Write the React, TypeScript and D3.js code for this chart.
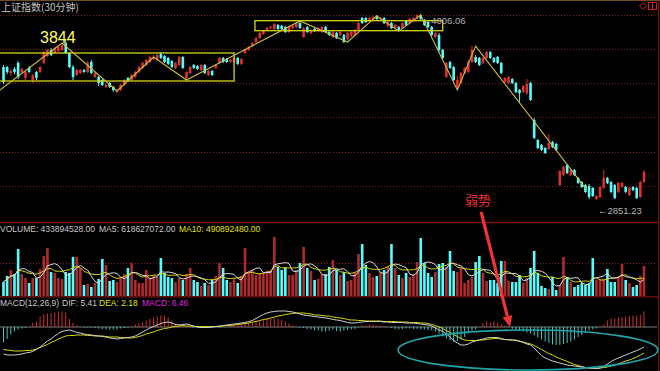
import * as d3 from 'd3';

// 30-minute candles, SSE Composite
const openPx = [
  3677, 3677, 3640, 3665, 3702, 3646, 3609, 3671, 3596, 3646,
  3646, 3702, 3745, 3783, 3764, 3776, 3783, 3826, 3764, 3677,
  3627, 3640, 3658, 3646, 3708, 3615, 3615, 3596, 3553, 3578,
  3553, 3522, 3534, 3565, 3609, 3596, 3615, 3646, 3671, 3689,
  3708, 3727, 3720, 3758, 3745, 3733, 3714, 3671, 3689, 3739,
  3609, 3640, 3689, 3683, 3658, 3689, 3627, 3652, 3671, 3702,
  3733, 3727, 3708, 3708, 3733, 3696, 3764, 3783, 3807, 3832,
  3857, 3882, 3907, 3919, 3913, 3938, 3932, 3925, 3894, 3919,
  3925, 3950, 3863, 3925, 3888, 3913, 3900, 3894, 3925, 3894,
  3863, 3888, 3876, 3876, 3851, 3869, 3876, 3907, 3981, 3981,
  3963, 3975, 3994, 3975, 3981, 3932, 3950, 3919, 3925, 3919,
  3963, 3950, 3963, 3981, 4000, 3969, 3956, 3925, 3863, 3876,
  3783, 3615, 3708, 3677, 3547, 3578, 3640, 3646, 3708, 3739,
  3733, 3702, 3733, 3770, 3733, 3739, 3702, 3584, 3578, 3602,
  3578, 3534, 3522, 3515, 3578, 3348, 3224, 3193, 3174, 3168,
  3211, 3199, 2944, 3006, 3068, 3006, 3037, 2988, 2963, 2944,
  2938, 2926, 2857, 2870, 2926, 2988, 2963, 2944, 2901, 2932,
  2932, 2882, 2932, 2926, 2870, 2963,
];
const closePx = [
  3584, 3646, 3652, 3646, 3615, 3665, 3646, 3646, 3627, 3609,
  3677, 3770, 3783, 3751, 3795, 3801, 3814, 3764, 3677, 3615,
  3658, 3658, 3646, 3702, 3640, 3640, 3578, 3565, 3565, 3553,
  3534, 3534, 3565, 3596, 3590, 3627, 3646, 3677, 3702, 3720,
  3739, 3739, 3751, 3733, 3708, 3696, 3677, 3702, 3739, 3671,
  3646, 3677, 3671, 3665, 3689, 3640, 3652, 3627, 3689, 3733,
  3708, 3708, 3720, 3733, 3696, 3727, 3783, 3801, 3826, 3857,
  3888, 3900, 3919, 3925, 3944, 3913, 3913, 3894, 3925, 3932,
  3950, 3919, 3919, 3894, 3907, 3900, 3919, 3925, 3894, 3876,
  3894, 3857, 3894, 3832, 3888, 3894, 3907, 3950, 3950, 3956,
  3981, 3987, 3975, 3981, 3950, 3956, 3919, 3938, 3907, 3950,
  3938, 3975, 3981, 4000, 3975, 3938, 3925, 3876, 3888, 3783,
  3733, 3702, 3671, 3596, 3596, 3640, 3671, 3708, 3783, 3708,
  3689, 3733, 3770, 3733, 3708, 3702, 3640, 3609, 3615, 3578,
  3522, 3515, 3559, 3571, 3472, 3236, 3174, 3162, 3143, 3205,
  3180, 3162, 3031, 3056, 3019, 3037, 3006, 2957, 2932, 2901,
  2870, 2876, 2876, 2932, 2988, 2957, 2901, 2863, 2957, 2957,
  2901, 2926, 2913, 2863, 2963, 3025,
];
const highPx = [
  3689, 3683, 3665, 3677, 3714, 3671, 3652, 3683, 3633, 3652,
  3683, 3776, 3789, 3795, 3801, 3807, 3820, 3844, 3770, 3689,
  3665, 3665, 3665, 3714, 3720, 3646, 3621, 3602, 3571, 3584,
  3559, 3540, 3571, 3602, 3615, 3633, 3652, 3683, 3708, 3727,
  3745, 3751, 3758, 3770, 3751, 3739, 3720, 3708, 3745, 3745,
  3652, 3683, 3696, 3689, 3696, 3696, 3658, 3658, 3696, 3739,
  3739, 3733, 3727, 3739, 3739, 3733, 3789, 3807, 3832, 3863,
  3894, 3907, 3925, 3932, 3950, 3944, 3938, 3932, 3932, 3938,
  3956, 3963, 3925, 3932, 3913, 3919, 3925, 3932, 3932, 3900,
  3900, 3894, 3900, 3882, 3894, 3900, 3913, 3956, 3987, 3987,
  3987, 3994, 4000, 3987, 3987, 3963, 3956, 3944, 3932, 3956,
  3969, 3981, 3987, 4004, 4006.06, 3975, 3963, 3932, 3894, 3888,
  3789, 3708, 3714, 3683, 3621, 3646, 3677, 3720, 3807, 3751,
  3739, 3739, 3776, 3776, 3739, 3745, 3708, 3615, 3621, 3609,
  3584, 3540, 3565, 3602, 3584, 3360, 3230, 3199, 3180, 3261,
  3217, 3205, 3037, 3062, 3075, 3044, 3044, 2994, 2969, 2950,
  2950, 2932, 2882, 2938, 3037, 2994, 2969, 2950, 2963, 2963,
  2938, 2932, 2938, 2932, 2969, 3037,
];
const lowPx = [
  3571, 3633, 3627, 3633, 3602, 3640, 3596, 3640, 3578, 3596,
  3640, 3696, 3739, 3745, 3758, 3770, 3776, 3758, 3671, 3596,
  3621, 3633, 3640, 3640, 3633, 3609, 3559, 3559, 3547, 3547,
  3522, 3515, 3528, 3559, 3584, 3590, 3609, 3640, 3665, 3683,
  3702, 3720, 3714, 3727, 3702, 3689, 3671, 3665, 3683, 3665,
  3596, 3633, 3665, 3658, 3652, 3633, 3621, 3621, 3665, 3696,
  3702, 3702, 3702, 3702, 3689, 3689, 3758, 3776, 3801, 3826,
  3851, 3876, 3900, 3913, 3907, 3907, 3907, 3888, 3888, 3913,
  3919, 3913, 3857, 3888, 3882, 3894, 3894, 3888, 3888, 3869,
  3857, 3851, 3869, 3826, 3845, 3863, 3869, 3900, 3944, 3950,
  3956, 3969, 3969, 3969, 3944, 3925, 3913, 3913, 3900, 3913,
  3932, 3944, 3956, 3975, 3969, 3932, 3919, 3869, 3857, 3770,
  3727, 3609, 3665, 3590, 3534, 3571, 3633, 3640, 3702, 3702,
  3683, 3696, 3727, 3727, 3702, 3696, 3633, 3578, 3571, 3571,
  3515, 3460, 3515, 3503, 3466, 3230, 3168, 3155, 3137, 3162,
  3174, 3155, 2938, 3000, 3012, 3000, 3000, 2950, 2926, 2894,
  2857, 2870, 2851.23, 2863, 2919, 2950, 2894, 2857, 2894, 2926,
  2894, 2876, 2907, 2857, 2863, 2957,
];
// volume, millions of shares
const volume = [
  203, 290, 377, 319, 682, 319, 261, 189, 261, 261,
  392, 580, 696, 348, 334, 261, 247, 348, 334, 566,
  566, 406, 160, 174, 131, 189, 247, 537, 450, 218,
  232, 203, 276, 319, 406, 479, 232, 189, 189, 377,
  261, 305, 276, 551, 334, 276, 261, 203, 261, 232,
  319, 406, 232, 203, 145, 189, 160, 232, 290, 479,
  406, 232, 203, 247, 189, 290, 696, 334, 377, 305,
  334, 334, 363, 363, 856, 421, 377, 406, 305, 305,
  377, 479, 711, 406, 363, 232, 247, 319, 319, 421,
  522, 377, 305, 348, 218, 232, 348, 609, 754, 450,
  334, 276, 290, 348, 377, 435, 754, 406, 305, 261,
  334, 276, 319, 493, 841, 479, 334, 276, 348, 464,
  479, 421, 653, 363, 348, 406, 189, 232, 276, 493,
  580, 334, 218, 232, 232, 189, 508, 508, 218, 203,
  203, 305, 189, 261, 406, 653, 334, 145, 116, 102,
  276, 87, 160, 566, 261, 203, 131, 160, 189, 160,
  189, 551, 232, 247, 247, 392, 203, 203, 290, 464,
  232, 189, 131, 160, 290, 435,
];
const difLine = [
  -54, -56, -56, -56, -55, -54, -52, -51, -49, -45,
  -40, -34, -28, -24, -18, -13, -9, -7, -6, -8,
  -11, -12, -14, -15, -16, -17, -18, -19, -20, -22,
  -23, -24, -23, -22, -21, -20, -18, -14, -10, -6,
  -2, 1, 4, 7, 9, 10, 8, 5, 4, 5,
  6, 4, 2, 0, -1, -1, -1, 0, 1, 2,
  3, 4, 5, 6, 7, 8, 9, 11, 13, 17,
  21, 25, 28, 30, 31, 32, 32, 32, 31, 30,
  28, 26, 24, 23, 22, 21, 20, 19, 18, 17,
  15, 14, 13, 11, 9, 8, 8, 9, 10, 11,
  11, 11, 11, 11, 10, 10, 9, 9, 9, 9,
  8, 8, 8, 7, 6, 5, 4, 2, -2, -6,
  -9, -14, -20, -27, -32, -36, -36, -34, -30, -28,
  -26, -24, -22, -21, -21, -21, -23, -25, -26, -26,
  -26, -28, -31, -34, -36, -42, -50, -57, -62, -65,
  -68, -70, -72, -74, -76, -77, -78, -79, -80, -81,
  -82, -83, -83, -82, -79, -74, -69, -65, -62, -59,
  -56, -53, -50, -47, -44, -40,
];
const deaLine = [
  -45, -46, -47, -48, -48, -48, -47, -47, -46, -44,
  -41, -38, -35, -31, -28, -24, -21, -18, -17, -17,
  -16, -16, -16, -17, -17, -18, -18, -18, -19, -20,
  -20, -20, -21, -21, -22, -22, -21, -19, -17, -14,
  -12, -10, -7, -5, -3, -2, 0, 1, 2, 3,
  2, 2, 1, 1, 1, 1, 1, 1, 1, 1,
  2, 3, 3, 4, 5, 6, 7, 8, 10, 11,
  13, 15, 16, 18, 20, 22, 23, 25, 26, 27,
  28, 28, 28, 27, 26, 24, 24, 23, 22, 22,
  20, 19, 18, 17, 15, 14, 14, 13, 13, 12,
  12, 12, 12, 12, 11, 11, 11, 11, 10, 10,
  10, 9, 9, 9, 8, 8, 7, 5, 3, 0,
  -3, -7, -11, -15, -19, -23, -26, -27, -27, -27,
  -26, -26, -25, -24, -23, -23, -24, -25, -25, -26,
  -27, -29, -30, -32, -34, -37, -41, -45, -49, -53,
  -56, -60, -63, -66, -69, -72, -75, -77, -79, -81,
  -82, -82, -83, -82, -81, -80, -78, -76, -74, -71,
  -68, -66, -63, -60, -56, -52,
];
const macdBar = [
  -31, -24, -15, -9, -5, -3, -2, 1, 8, 11,
  21, 25, 27, 28, 29, 31, 31, 29, 16, 8,
  3, 1, -1, -1, -1, -2, -3, -4, -5, -5,
  -5, -5, -3, -2, -1, 1, 5, 8, 9, 13,
  16, 20, 21, 23, 23, 20, 13, 7, 6, 3,
  2, 0, -1, -2, -2, -2, -2, -2, -1, -1,
  0, 1, 3, 5, 6, 7, 8, 9, 10, 11,
  12, 15, 16, 17, 18, 17, 15, 11, 7, 3,
  1, -1, -2, -4, -5, -7, -7, -9, -9, -7,
  -5, -8, -9, -7, -6, -5, -4, -1, 4, 3,
  5, 4, 3, 3, 1, 0, -2, -4, -5, -4,
  -3, -3, -4, -4, -5, -5, -6, -7, -9, -13,
  -19, -23, -27, -30, -28, -25, -20, -13, -7, -5,
  1, 8, 11, 9, 11, 8, 6, 3, 0, -4,
  -6, -8, -9, -11, -13, -17, -21, -25, -29, -32,
  -35, -36, -36, -34, -32, -29, -25, -20, -16, -11,
  -7, -5, -3, 1, 5, 13, 16, 17, 19, 20,
  21, 22, 23, 23, 24, 31,
];

const priceGrid = [3998, 3787, 3576, 3365, 3151, 2940];
const volumeGrid = 480;

// hand-drawn annotations, in [candle index, price]
const wavePoints: [number, number][] = [
  [-1, 3534], [16, 3826], [31, 3528], [41, 3739], [50, 3596], [81, 3963],
  [94, 3832], [102, 3994], [108, 3900], [114, 4000], [124, 3534], [129, 3807],
  [159.4, 2913],
];
const boxes = [
  { from: -3, to: 63, top: 3764, bottom: 3590 },
  { from: 68.7, to: 120, top: 3964.5, bottom: 3902.4 },
];

const RED = '#e0302c';
const CYAN = '#54fcfc';
const VOL_RED = '#b02a2a';
const GRID = '#8a1a1a';
const LINE_FONT = 'Liberation Sans, Arial, sans-serif';

const App = () => {
  const W = 660, H = 371;
  const n = closePx.length;

  const x = d3.scaleLinear().domain([0, n - 1]).range([3.5, 644]);
  const yP = d3.scaleLinear()
    .domain([d3.min(lowPx) as number, d3.max(highPx) as number])
    .range([200, 14]);
  const yV = d3.scaleLinear().domain([0, d3.max(volume) as number]).range([296, 237]);
  const yM = d3.scaleLinear().domain([-88, 60]).range([371, 297]);

  const up = (i: number) => closePx[i] >= openPx[i];

  const ma = (k: number) => volume.map((_, i) => d3.mean(volume.slice(Math.max(0, i - k + 1), i + 1)) as number);
  const ma5 = ma(5);
  const ma10 = ma(10);

  const volLine = d3.line<number>().x((_, i) => x(i)).y(d => yV(d));
  const macdLine = d3.line<number>().x((_, i) => x(i)).y(d => yM(d));
  const waveLine = d3.line<[number, number]>().x(d => x(d[0])).y(d => yP(d[1]));

  // arrow from the 弱势 note down to the MACD zero line
  const ax1 = x(130.5), ay1 = yP(2777);
  const ax2 = x(138.4), ay2 = yM(0);
  const ang = Math.atan2(ay2 - ay1, ax2 - ax1);
  const headLen = 11, headW = 5;
  const bx = ax2 - headLen * Math.cos(ang), by = ay2 - headLen * Math.sin(ang);
  const head = [
    [ax2, ay2],
    [bx + headW * Math.sin(ang), by - headW * Math.cos(ang)],
    [bx - headW * Math.sin(ang), by + headW * Math.cos(ang)],
  ].map(p => p.join(',')).join(' ');

  const ecx = x(143.3), ecy = yM(-46);
  const erx = x(143.3 + 35.5) - ecx, ery = yM(-46) - yM(-6);

  return (
    <svg width={W} height={H} style={{ position: 'absolute', left: 0, top: 0, display: 'block', background: '#000' }}>
      <rect width={W} height={H} fill="#000" />
      <line x1={0} x2={W} y1={0.5} y2={0.5} stroke="#6e5024" />
      <line x1={658.5} x2={658.5} y1={0} y2={H} stroke="#8a0c0c" />

      {/* grid */}
      {priceGrid.map(p => (
        <line key={p} x1={0} x2={657} y1={Math.round(yP(p)) + 0.5} y2={Math.round(yP(p)) + 0.5}
          stroke={GRID} strokeDasharray="1,2" />
      ))}
      <line x1={0} x2={657} y1={Math.round(yV(volumeGrid)) + 0.5} y2={Math.round(yV(volumeGrid)) + 0.5}
        stroke={GRID} strokeDasharray="1,2" />
      <line x1={0} x2={658} y1={222.5} y2={222.5} stroke="#7e1212" strokeWidth={1.3} />
      <line x1={0} x2={658} y1={296.8} y2={296.8} stroke="#7e1212" strokeWidth={1.3} />
      <line x1={0} x2={657} y1={yM(0)} y2={yM(0)} stroke="#7c7c7c" />

      {/* candles */}
      {d3.range(n).map(i => {
        const c = up(i) ? RED : CYAN;
        const yo = yP(openPx[i]), yc = yP(closePx[i]);
        return (
          <g key={i}>
            <line x1={x(i)} x2={x(i)} y1={yP(highPx[i])} y2={yP(lowPx[i])} stroke={c} />
            <rect x={x(i) - 1.3} width={2.6} y={Math.min(yo, yc)} height={Math.max(1, Math.abs(yo - yc))} fill={c} />
          </g>
        );
      })}

      {/* annotation boxes and wave line */}
      {boxes.map((b, k) => (
        <rect key={k} x={x(b.from)} y={yP(b.top)} width={x(b.to) - x(b.from)} height={yP(b.bottom) - yP(b.top)}
          fill="none" stroke="#d6d61c" strokeWidth={1.3} />
      ))}
      <path d={waveLine(wavePoints) ?? ''} fill="none" stroke="#c9bd3a" strokeWidth={1.1} />

      <text x={40} y={yP(3844) + 3.2} fill="#ffff5a" fontFamily={LINE_FONT} fontSize={16}>3844</text>
      <text x={x(114) + 1} y={yP(4006.06) + 9.5} fill="#b4b4b4" fontFamily={LINE_FONT} fontSize={9.5}>←4006.06</text>
      <text x={x(162) + 1.5} y={yP(2851.23) + 13.5} fill="#b4b4b4" fontFamily={LINE_FONT} fontSize={9.5}>←2851.23</text>
      <text x={1} y={11} fill="#c4c4c4" fontFamily="Noto Sans CJK SC, sans-serif" fontSize={10}>上证指数(30分钟)</text>

      {/* top right icons */}
      <path d="M643,2.5 L646.5,6 L643,9.5 L639.5,6 Z" fill="none" stroke="#d02020" />
      <rect x={648.5} y={2.5} width={8} height={7} fill="none" stroke="#d02020" />
      <line x1={652.5} x2={652.5} y1={2.5} y2={9.5} stroke="#d02020" />

      {/* volume */}
      {volume.map((v, i) => (
        <rect key={i} x={x(i) - 1.3} width={2.6} y={yV(v)} height={296 - yV(v)} fill={up(i) ? VOL_RED : CYAN} />
      ))}
      <path d={volLine(ma10) ?? ''} fill="none" stroke="#d4d400" />
      <path d={volLine(ma5) ?? ''} fill="none" stroke="#dcdcdc" />
      <text y={232} fontFamily={LINE_FONT} fontSize={8.5}>
        <tspan x={0} fill="#c8c8c8">VOLUME: 433894528.00</tspan>
        <tspan x={99} fill="#c8c8c8">MA5: 618627072.00</tspan>
        <tspan x={179} fill="#e2e200">MA10: 490892480.00</tspan>
      </text>

      {/* MACD */}
      {macdBar.map((v, i) => (
        <line key={i} x1={x(i)} x2={x(i)} y1={yM(0)} y2={yM(v)} stroke={v >= 0 ? '#d03030' : '#3ec8c8'} />
      ))}
      <path d={macdLine(deaLine) ?? ''} fill="none" stroke="#d8d800" />
      <path d={macdLine(difLine) ?? ''} fill="none" stroke="#d0d0d0" />
      <text y={306} fontFamily={LINE_FONT} fontSize={8.5}>
        <tspan x={0} fill="#c8c8c8">MACD(12,26,9)</tspan>
        <tspan x={62} fill="#c8c8c8">DIF: 5.41</tspan>
        <tspan x={99} fill="#e2e200">DEA: 2.18</tspan>
        <tspan x={142} fill="#e020e0">MACD: 6.46</tspan>
      </text>

      <ellipse cx={ecx} cy={ecy} rx={erx} ry={ery} fill="none" stroke="#1fa5a8" strokeWidth={1.6} />

      {/* 弱势 note */}
      <text x={x(126.1)} y={yP(2820)} fill="#e83030" fontFamily="Noto Sans CJK SC, sans-serif" fontSize={13}>弱势</text>
      <line x1={ax1} y1={ay1} x2={bx} y2={by} stroke="#f03434" strokeWidth={3.2} />
      <polygon points={head} fill="#f03434" />
    </svg>
  );
};

export default App;
